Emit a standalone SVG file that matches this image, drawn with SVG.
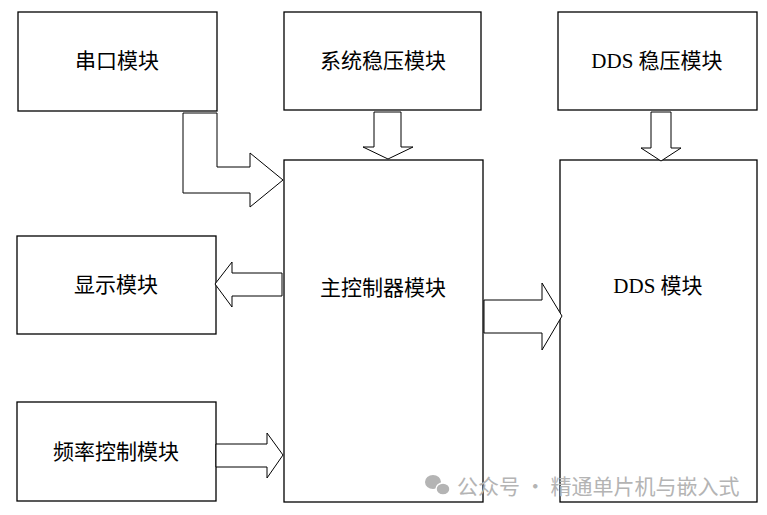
<svg xmlns="http://www.w3.org/2000/svg" width="767" height="515" viewBox="0 0 767 515">
<style>
.box{fill:#fff;stroke:#000;stroke-width:1.3}
.arr{fill:#fff;stroke:#000;stroke-width:1}
.t{font-family:"Liberation Serif","Noto Sans CJK SC",serif;font-size:21px;fill:#000;text-anchor:middle;dominant-baseline:central}
.wm{font-family:"Noto Sans CJK SC",sans-serif;font-size:21px;fill:#b4b4b4}
</style>
<rect width="767" height="515" fill="#fff"/>
<g id="serial"><rect class="box" x="18" y="12" width="199" height="99"/><text class="t" x="117" y="61">串口模块</text></g>
<g id="sysreg"><rect class="box" x="284" y="12" width="197" height="98"/><text class="t" x="383" y="61">系统稳压模块</text></g>
<g id="ddsreg"><rect class="box" x="558" y="12" width="199" height="98"/><text class="t" x="657" y="61">DDS 稳压模块</text></g>
<g id="display"><rect class="box" x="17" y="236" width="199" height="98"/><text class="t" x="116" y="285">显示模块</text></g>
<g id="freq"><rect class="box" x="17" y="402" width="199" height="99"/><text class="t" x="116" y="452">频率控制模块</text></g>
<g id="mcu"><rect class="box" x="284" y="160" width="199" height="342"/><text class="t" x="383" y="288">主控制器模块</text></g>
<g id="dds"><rect class="box" x="560" y="160" width="197" height="342"/><text class="t" x="658" y="286">DDS 模块</text></g>
<g id="connectors">
<path class="arr" d="M183,113 L217,113 L217,167 L250,167 L250,153 L283,180 L250,207 L250,193 L183,193 Z"/>
<path class="arr" d="M282,273 L232,273 L232,262 L215,284 L232,307 L232,296 L282,296 Z"/>
<path class="arr" d="M216,444 L267,444 L267,433 L283,455 L267,478 L267,467 L216,467 Z"/>
<path class="arr" d="M374,112 L401,112 L401,147 L413,147 L388,159 L363,147 L374,147 Z"/>
<path class="arr" d="M651,112 L671,112 L671,148 L681,148 L661,161 L641,148 L651,148 Z"/>
<path class="arr" d="M484,300 L542,300 L542,283 L562,316 L542,350 L542,333 L484,333 Z"/>
</g>
<g id="watermark">
<ellipse cx="433" cy="482" rx="8" ry="7" fill="#b4b4b4"/>
<ellipse cx="443" cy="489" rx="7" ry="6" fill="#b4b4b4" stroke="#fff" stroke-width="1.5"/>
<text class="wm" x="457" y="494">公众号 · 精通单片机与嵌入式</text>
</g>
</svg>
